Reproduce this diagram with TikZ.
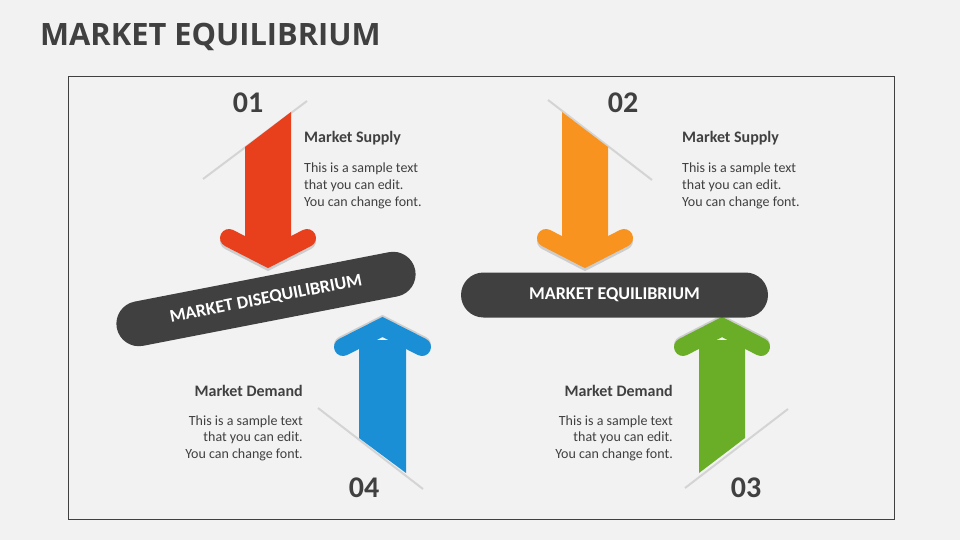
\documentclass[tikz,border=0pt]{standalone}
\usepackage{fontspec}
\setmainfont{Carlito}
\newfontfamily\titlefont{Open Sans}
\usetikzlibrary{shapes.misc}
\definecolor{bgc}{HTML}{F2F2F2}
\definecolor{dark}{HTML}{404040}
\definecolor{cred}{HTML}{E8401C}
\definecolor{corange}{HTML}{F7931E}
\definecolor{cblue}{HTML}{1A8FD6}
\definecolor{cgreen}{HTML}{6AAE27}
\definecolor{diag}{HTML}{D4D4D4}
\tikzset{
  headtxt/.style={inner sep=0, text=dark, font=\bfseries\fontsize{16}{19}\selectfont},
  bodytxt/.style={inner sep=0, text=dark, font=\fontsize{14}{17}\selectfont},
  numtxt/.style={inner sep=0, text=dark, anchor=base, font=\bfseries\fontsize{30}{34}\selectfont},
  bar/.style={rounded rectangle, fill=dark, text=white, inner sep=0,
    minimum width=304, minimum height=45, font=\bfseries\fontsize{18}{21}\selectfont},
  chev/.style={line width=18, line cap=round, line join=miter},
  chevshadow/.style={line width=18, line cap=round, line join=miter, black, opacity=0.15},
  diagline/.style={diag, line width=2},
}
\begin{document}
\begin{tikzpicture}[x=1pt,y=-1pt]
\fill[bgc] (0,0) rectangle (960,540);
\useasboundingbox (0,0) rectangle (960,540);
\node[anchor=base west, inner sep=0, text=dark, font=\titlefont\bfseries\fontsize{30.8}{36}\selectfont] (title) at (40,46) {MARKET EQUILIBRIUM};
\node[draw=dark, line width=1, minimum width=826, minimum height=443, anchor=north west, inner sep=0] (frame) at (68,76) {};

% diagonal lines
\coordinate (d1a) at (203,179); \coordinate (d1b) at (307,101);
\coordinate (d2a) at (548,100); \coordinate (d2b) at (652,180);
\coordinate (d4a) at (318,408); \coordinate (d4b) at (423,489);
\coordinate (d3a) at (685,488); \coordinate (d3b) at (788,409);
\draw[diagline] (d1a) -- (d1b);
\draw[diagline] (d2a) -- (d2b);
\draw[diagline] (d4a) -- (d4b);
\draw[diagline] (d3a) -- (d3b);

% arrow 01 (red, down)
\draw[chevshadow] (229,241) -- (268,261) -- (307,241);
\fill[cred] (245,147) -- (291,112) -- (291,250) -- (245,250) -- cycle;
\draw[chev, cred] (229,238) -- (268,258) -- (307,238);

% arrow 02 (orange, down)
\draw[chevshadow] (546,241) -- (585,261) -- (624,241);
\fill[corange] (562,112) -- (608,147) -- (608,250) -- (562,250) -- cycle;
\draw[chev, corange] (546,238) -- (585,258) -- (624,238);

% arrow 04 (blue, up)
\draw[chevshadow] (343,345) -- (382.5,325) -- (422,345);
\fill[cblue] (359,438) -- (406,473) -- (406,340) -- (359,340) -- cycle;
\draw[chev, cblue] (343,347) -- (382.5,327) -- (422,347);

% arrow 03 (green, up)
\draw[chevshadow] (683,345) -- (722,325) -- (761,345);
\fill[cgreen] (699,473) -- (745,438) -- (745,340) -- (699,340) -- cycle;
\draw[chev, cgreen] (683,347) -- (722,327) -- (761,347);

% bars
\node[bar, rotate=11] (bar1) at (266,299) {MARKET DISEQUILIBRIUM};
\node[bar, minimum width=307] (bar2) at (614.5,295) {MARKET EQUILIBRIUM};

% numbers
\node[numtxt] (n1) at (248,113) {01};
\node[numtxt] (n2) at (623,113) {02};
\node[numtxt] (n4) at (364,497) {04};
\node[numtxt] (n3) at (746,497) {03};

% texts 01
\node[headtxt, anchor=base west] (h1) at (304,143) {Market Supply};
\node[bodytxt, anchor=base west] (b1a) at (304,173) {This is a sample text};
\node[bodytxt, anchor=base west] (b1b) at (304,189.5) {that you can edit.};
\node[bodytxt, anchor=base west] (b1c) at (304,206) {You can change font.};
% texts 02
\node[headtxt, anchor=base west] (h2) at (682,143) {Market Supply};
\node[bodytxt, anchor=base west] (b2a) at (682,173) {This is a sample text};
\node[bodytxt, anchor=base west] (b2b) at (682,189.5) {that you can edit.};
\node[bodytxt, anchor=base west] (b2c) at (682,206) {You can change font.};
% texts 04
\node[headtxt, anchor=base east] (h4) at (303,396) {Market Demand};
\node[bodytxt, anchor=base east] (b4a) at (303,425) {This is a sample text};
\node[bodytxt, anchor=base east] (b4b) at (303,441.5) {that you can edit.};
\node[bodytxt, anchor=base east] (b4c) at (303,458) {You can change font.};
% texts 03
\node[headtxt, anchor=base east] (h3) at (673,396) {Market Demand};
\node[bodytxt, anchor=base east] (b3a) at (673,425) {This is a sample text};
\node[bodytxt, anchor=base east] (b3b) at (673,441.5) {that you can edit.};
\node[bodytxt, anchor=base east] (b3c) at (673,458) {You can change font.};
\end{tikzpicture}
\end{document}
